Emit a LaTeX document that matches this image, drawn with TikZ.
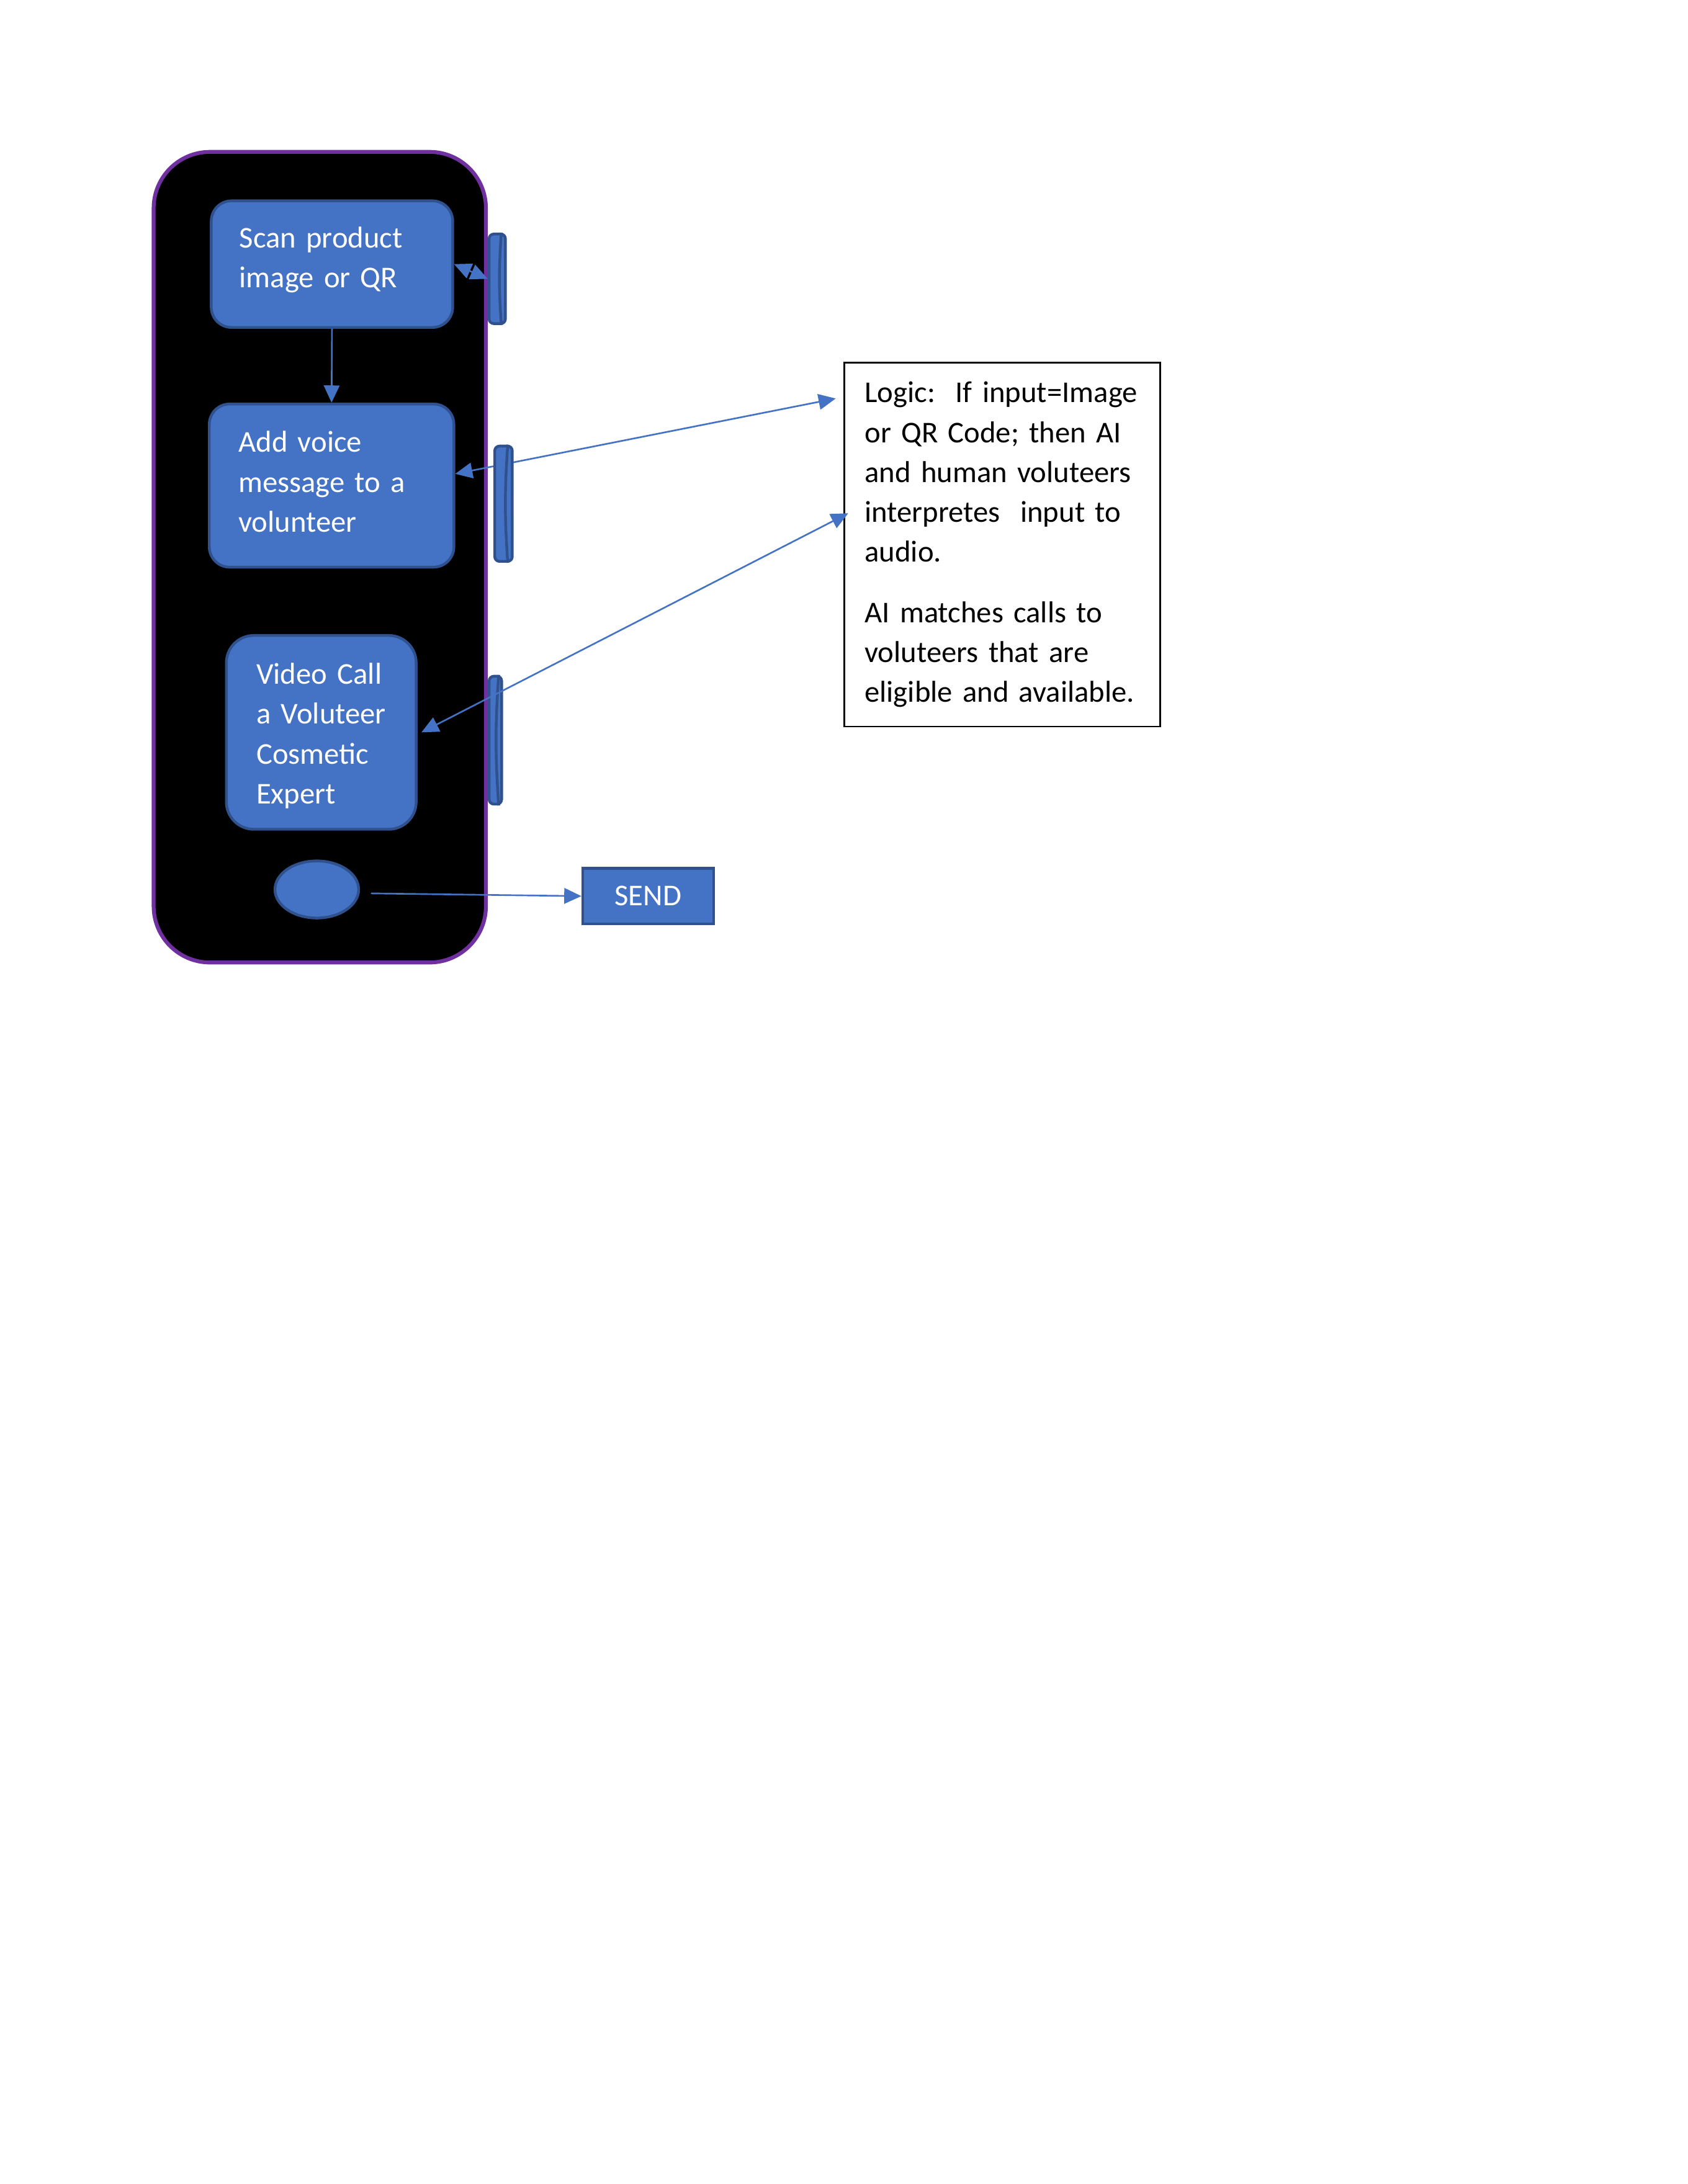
\documentclass[tikz,border=0pt]{standalone}
\usepackage{fontspec}
\setmainfont{Carlito}
\usetikzlibrary{arrows.meta,positioning,shapes.geometric}
\definecolor{boxblue}{HTML}{4472C4}
\definecolor{boxedge}{HTML}{2F528F}
\definecolor{phoneedge}{HTML}{7030A0}
\tikzset{every picture/.style={/utils/exec={\fontsize{11}{14.5}\selectfont\frenchspacing}}}

\begin{document}
\begin{tikzpicture}
  \tikzstyle{phone} = [rectangle, rounded corners=0.72cm, minimum width=4.25cm, minimum height=10.37cm, draw=phoneedge, line width=1.4pt, fill=black]
  \tikzstyle{screen} = [rectangle, rounded corners=0.26cm, draw=boxedge, line width=1pt, fill=boxblue, text=white, align=left]
  \tikzstyle{key} = [rectangle, rounded corners=0.6mm, draw=boxedge, line width=1pt, fill=boxblue, inner sep=0pt]
  \tikzstyle{note} = [rectangle, draw=black, line width=0.6pt, align=left, text width=3.52cm, minimum height=4.655cm, inner xsep=0.26cm]

  \tikzstyle{arrow} = [-{Triangle[length=2.2mm,width=2mm]}, draw=boxblue, line width=0.6pt]
  \tikzstyle{twoway} = [{Triangle[length=2.2mm,width=2mm]}-{Triangle[length=2.2mm,width=2mm]}, draw=boxblue, line width=0.6pt]

  \useasboundingbox (0,0) rectangle (21.59,-27.94);

  \node (phone) [phone] at (4.09,-7.128) {};
  \node (scan) [screen, minimum width=3.088cm, minimum height=1.62cm, text width=2.37cm, text depth=0.69cm] at (4.246,-3.379) {Scan product\\image or QR};
  \node (voice) [screen, minimum width=3.128cm, minimum height=2.087cm, text width=2.38cm, text depth=1.12cm] at (4.241,-6.212) {Add voice\\message to a\\volunteer};
  \node (video) [screen, rounded corners=0.35cm, minimum width=2.428cm, minimum height=2.479cm, text width=1.66cm, text depth=1.5cm] at (4.109,-9.369) {Video Call\\a Voluteer\\Cosmetic\\Expert};
  \node (home) [ellipse, draw=boxedge, line width=1pt, fill=boxblue, minimum width=1.07cm, minimum height=0.73cm] at (4.052,-11.379) {};
  \node (send) [rectangle, draw=boxedge, line width=1pt, fill=boxblue, text=white, minimum width=1.672cm, minimum height=0.714cm] at (8.29,-11.464) {SEND};
  \node (logic) [note] at (12.82,-6.966) {Logic:\ \ If input=Image\\or QR Code; then AI\\and human voluteers\\interpretes\ \ input to\\audio.\\[7.5pt]AI matches calls to\\voluteers that are\\eligible and available.};

  \node (key1) [key, minimum width=0.209cm, minimum height=1.146cm] at (6.36,-3.567) {};
  \draw [twoway] (scan.east) -- (key1.west);
  \draw [arrow] (scan.south) -- (voice.north);
  % line runs behind the side key
  \draw [twoway] ([yshift=1.5mm]voice.east) -- ([xshift=-1mm,yshift=-4.7mm]logic.north west);
  \node (key2) [key, minimum width=0.224cm, minimum height=1.475cm] at (6.44,-6.444) {};
  \node (key3) [key, minimum width=0.16cm, minimum height=1.636cm] at (6.336,-9.469) {};
  % end of each side key
  \foreach \k/\d in {key1/0.7mm, key2/0.75mm, key3/0.55mm}
    \draw [boxedge, line width=1pt] ([xshift=-\d]\k.north east) to[bend right=4] ([xshift=-\d]\k.south east);
  \draw [twoway] ([xshift=0.5mm]video.east) -- ([xshift=0.6mm,yshift=4mm]logic.west);
  \draw [arrow] ([xshift=1.4mm,yshift=-0.5mm]home.east) -- (send.west);
\end{tikzpicture}
\end{document}
